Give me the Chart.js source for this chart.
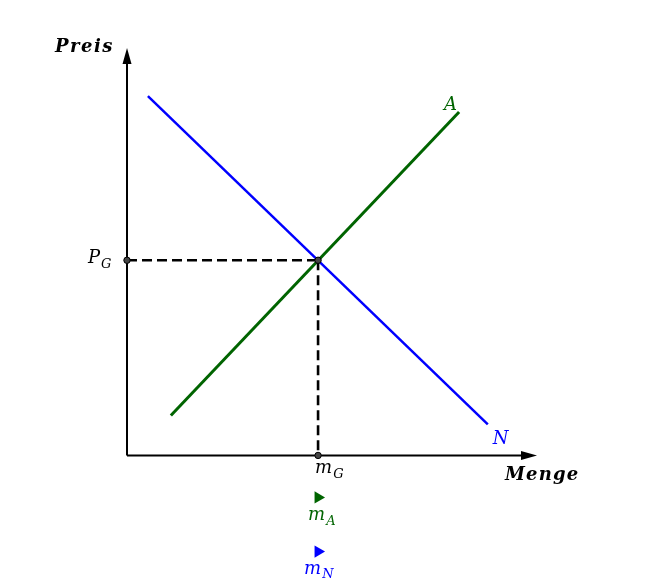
<!DOCTYPE html>
<html><head><meta charset="utf-8">
<script src="https://cdn.jsdelivr.net/npm/chart.js@4/dist/chart.umd.min.js"></script>
<style>html,body{margin:0;padding:0;background:#fff}#wrap{width:652px;height:581px}</style>
</head><body><div id="wrap"><canvas id="c"></canvas></div>
<script>
// Data (chart units)
const supplyA = [{x:1.07,y:0.98},{x:8.10,y:8.43}];
const demandN = [{x:0.51,y:8.82},{x:8.80,y:0.76}];
const equilibrium = {x:4.66,y:4.79};
const markerA = {x:4.66,y:-1.03};
const markerN = {x:4.66,y:-2.36};
const axisMax = {x:10,y:10};
const axisMinY = -2.91;

const hDash = [{x:0,y:equilibrium.y},{x:equilibrium.x,y:equilibrium.y}];
const vDash = [{x:equilibrium.x,y:equilibrium.y},{x:equilibrium.x,y:0}];
const dots = [{x:0,y:equilibrium.y},{x:equilibrium.x,y:equilibrium.y},{x:equilibrium.x,y:0}];

const serif = '"DejaVu Serif", "Liberation Serif", serif';

function txt(ctx, s, x, y, font, color, spacing){
  ctx.font = font; ctx.fillStyle = color;
  ctx.letterSpacing = (spacing||0) + 'px';
  ctx.fillText(s, x, y);
  const w = ctx.measureText(s).width;
  ctx.letterSpacing = '0px';
  return w;
}
function sub(ctx, main, subs, x, y, color, size){
  ctx.textBaseline = 'alphabetic'; ctx.textAlign = 'left';
  const w = txt(ctx, main, x, y, 'italic ' + size + 'px ' + serif, color, 0);
  txt(ctx, subs, x + w + 1, y + size*0.25, 'italic ' + Math.round(size*0.72) + 'px ' + serif, color, 0);
}

const overlay = {
  id:'overlay',
  afterDatasetsDraw(chart){
    const ctx = chart.ctx, xs = chart.scales.x, ys = chart.scales.y;
    const X = v=>xs.getPixelForValue(v), Y = v=>ys.getPixelForValue(v);
    ctx.save();
    // axes
    ctx.strokeStyle='#000'; ctx.fillStyle='#000'; ctx.lineWidth=2;
    ctx.beginPath(); ctx.moveTo(X(0),Y(0)); ctx.lineTo(X(axisMax.x)-8,Y(0));
    ctx.moveTo(X(0),Y(0)); ctx.lineTo(X(0),Y(axisMax.y)+8); ctx.stroke();
    ctx.beginPath(); ctx.moveTo(X(axisMax.x),Y(0)); ctx.lineTo(X(axisMax.x)-16,Y(0)-4.5); ctx.lineTo(X(axisMax.x)-16,Y(0)+4.5); ctx.closePath(); ctx.fill();
    ctx.beginPath(); ctx.moveTo(X(0),Y(axisMax.y)); ctx.lineTo(X(0)-4.5,Y(axisMax.y)+16); ctx.lineTo(X(0)+4.5,Y(axisMax.y)+16); ctx.closePath(); ctx.fill();
    // dots on top
    dots.forEach(p=>{ctx.beginPath(); ctx.arc(X(p.x),Y(p.y),3.2,0,Math.PI*2); ctx.fillStyle='#444'; ctx.fill(); ctx.lineWidth=1; ctx.strokeStyle='#000'; ctx.stroke();});
    // axis titles
    ctx.textBaseline='alphabetic'; ctx.textAlign='left';
    txt(ctx,'Preis', 55, 52, 'italic bold 18px '+serif, '#000', 1.5);
    txt(ctx,'Menge', 505, 480, 'italic bold 18px '+serif, '#000', 1.2);
    // labels
    txt(ctx,'A', X(supplyA[1].x)-15, Y(supplyA[1].y)-2, 'italic 18px '+serif, '#006400', 0);
    txt(ctx,'N', X(demandN[1].x)+5, Y(demandN[1].y)+20, 'italic 18px '+serif, '#0000ff', 0);
    sub(ctx,'P','G', 88, Y(equilibrium.y)+3, '#000', 18);
    sub(ctx,'m','G', X(equilibrium.x)-3, Y(0)+18, '#000', 18);
    sub(ctx,'m','A', X(markerA.x)-10, Y(markerA.y)+23, '#006400', 18);
    sub(ctx,'m','N', X(markerN.x)-14, Y(markerN.y)+22, '#0000ff', 18);
    ctx.restore();
  }
};

new Chart(document.getElementById('c'), {
  type:'scatter',
  data:{datasets:[
    {data:hDash, showLine:true, borderColor:'#000', borderWidth:2.6, borderDash:[10,5], pointRadius:0},
    {data:vDash, showLine:true, borderColor:'#000', borderWidth:2.6, borderDash:[10,5], pointRadius:0},
    {data:demandN, showLine:true, borderColor:'#0000ff', borderWidth:2.5, pointRadius:0},
    {data:supplyA, showLine:true, borderColor:'#006400', borderWidth:3, pointRadius:0},
    {data:[markerA], pointStyle:'triangle', rotation:90, pointRadius:7, backgroundColor:'#006400', borderColor:'#006400', borderWidth:0},
    {data:[markerN], pointStyle:'triangle', rotation:90, pointRadius:7, backgroundColor:'#0000ff', borderColor:'#0000ff', borderWidth:0}
  ]},
  options:{
    responsive:true, maintainAspectRatio:false, animation:false,
    layout:{padding:{left:127,right:115,top:48,bottom:2}},
    plugins:{legend:{display:false},tooltip:{enabled:false}},
    scales:{
      x:{type:'linear',min:0,max:axisMax.x,display:false},
      y:{type:'linear',min:axisMinY,max:axisMax.y,display:false}
    }
  },
  plugins:[overlay]
});
</script></body></html>
